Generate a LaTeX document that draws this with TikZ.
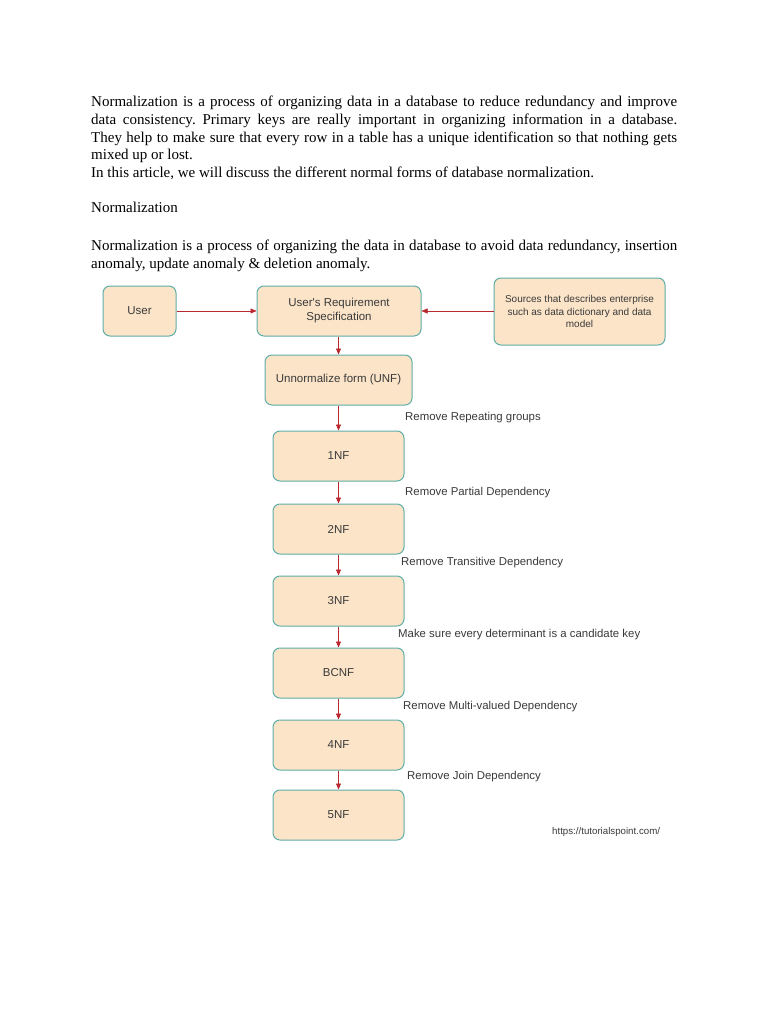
\documentclass[tikz,border=0pt]{standalone}
\usepackage{fontspec}
\setmainfont{Liberation Serif}
\newfontfamily\arialf{Liberation Sans}
\usetikzlibrary{arrows.meta}
\frenchspacing
\definecolor{boxfill}{HTML}{FBE4C8}
\definecolor{boxline}{HTML}{5FAEA8}
\definecolor{arrred}{HTML}{B8282C}
\definecolor{dtext}{HTML}{3A3A3A}
\begin{document}
\begin{tikzpicture}[x=1pt,y=-1pt,
  para/.style={anchor=base west,inner sep=0pt,font=\fontsize{15}{17}\selectfont},
  fbox/.style={draw=boxline,fill=boxfill,rounded corners=7pt,line width=1pt,inner sep=0pt,
    align=center,text=dtext,font=\arialf\fontsize{11.5}{14}\selectfont},
  lbl/.style={anchor=west,inner sep=0pt,text=dtext,font=\arialf\fontsize{11.4}{13}\selectfont},
  conn/.style={draw=arrred,line width=0.8pt,-{Triangle[length=6pt,width=5pt]}}]
\useasboundingbox[fill=white] (0,0) rectangle (768,1024);
% text
\node[para] (p1) at (91,107) {\makebox[586pt][s]{Normalization is a process of organizing data in a database to reduce redundancy and improve}};
\node[para] (p2) at (91,125) {\makebox[586pt][s]{data consistency. Primary keys are really important in organizing information in a database.}};
\node[para] (p3) at (91,143) {\makebox[586pt][s]{They help to make sure that every row in a table has a unique identification so that nothing gets}};
\node[para] (p4) at (91,160) {mixed up or lost.};
\node[para] (p5) at (91,178) {In this article, we will discuss the different normal forms of database normalization.};
\node[para] (p6) at (91,213) {Normalization};
\node[para] (p7) at (91,250) {\makebox[586pt][s]{Normalization is a process of organizing the data in database to avoid data redundancy, insertion}};
\node[para] (p8) at (91,268) {anomaly, update anomaly \& deletion anomaly.};
% boxes
\node[fbox,minimum width=73pt,minimum height=50pt] (user) at (139.5,311) {User};
\node[fbox,minimum width=164pt,minimum height=50pt] (urs) at (339,311) {User's Requirement\\Specification};
\node[fbox,minimum width=171pt,minimum height=67pt,font=\arialf\fontsize{10}{12.5}\selectfont] (src) at (579.5,311.5) {Sources that describes enterprise\\such as data dictionary and data\\model};
\node[fbox,minimum width=147pt,minimum height=50pt] (unf) at (338.5,380) {Unnormalize form (UNF)};
\node[fbox,minimum width=131pt,minimum height=50pt] (n1) at (338.5,456) {1NF};
\node[fbox,minimum width=131pt,minimum height=50pt] (n2) at (338.5,529) {2NF};
\node[fbox,minimum width=131pt,minimum height=50pt] (n3) at (338.5,601) {3NF};
\node[fbox,minimum width=131pt,minimum height=50pt] (bc) at (338.5,673) {BCNF};
\node[fbox,minimum width=131pt,minimum height=50pt] (n4) at (338.5,745) {4NF};
\node[fbox,minimum width=131pt,minimum height=50pt] (n5) at (338.5,815) {5NF};
% connectors
\draw[conn,line width=0.5pt] (user.east) -- (urs.west);
\draw[conn,line width=0.5pt] (src.west |- urs.east) -- (urs.east);
\draw[conn] (urs.south -| unf.north) -- (unf.north);
\draw[conn] (unf.south) -- (n1.north);
\draw[conn] (n1.south) -- (n2.north);
\draw[conn] (n2.south) -- (n3.north);
\draw[conn] (n3.south) -- (bc.north);
\draw[conn] (bc.south) -- (n4.north);
\draw[conn] (n4.south) -- (n5.north);
% labels
\node[lbl] (l1) at (405,418) {Remove Repeating groups};
\node[lbl] (l2) at (405,493) {Remove Partial Dependency};
\node[lbl] (l3) at (401,563) {Remove Transitive Dependency};
\node[lbl] (l4) at (398,635) {Make sure every determinant is a candidate key};
\node[lbl] (l5) at (403,707) {Remove Multi-valued Dependency};
\node[lbl] (l6) at (407,777) {Remove Join Dependency};
\node[lbl,font=\arialf\fontsize{9.7}{11}\selectfont] (url) at (552,832) {https://tutorialspoint.com/};
\end{tikzpicture}
\end{document}
